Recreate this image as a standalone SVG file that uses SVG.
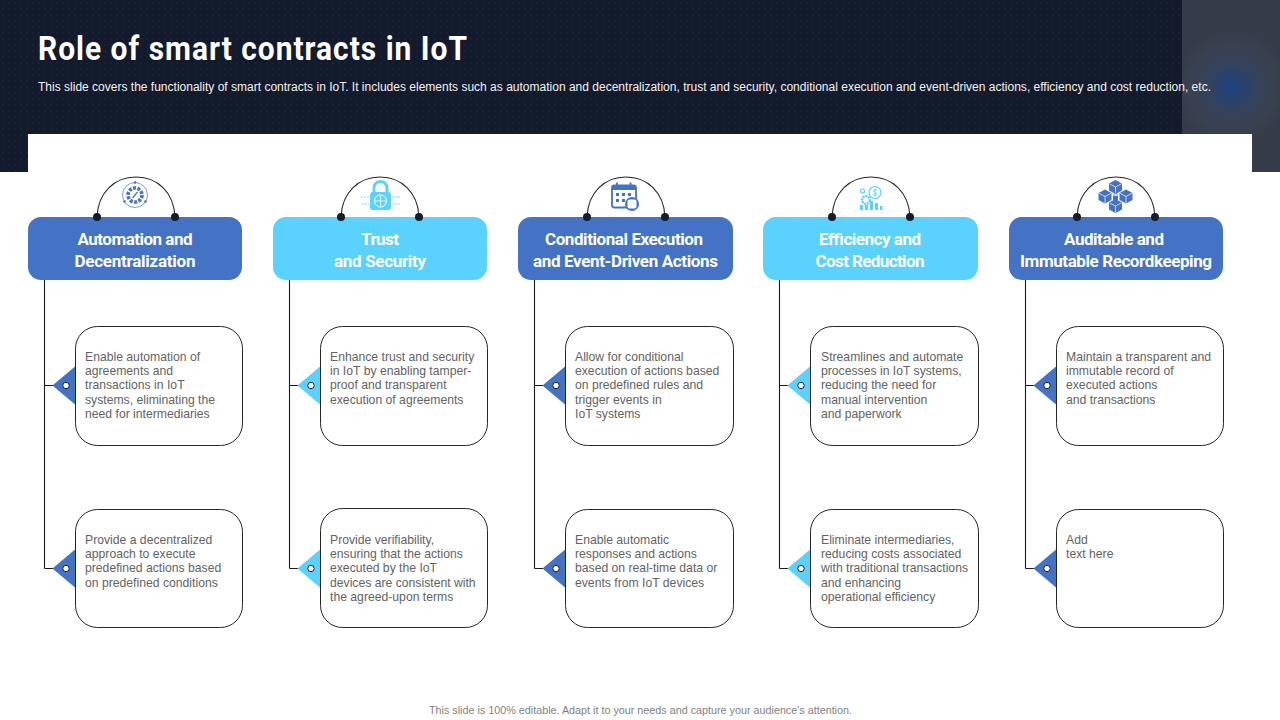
<svg xmlns="http://www.w3.org/2000/svg" width="1280" height="720" viewBox="0 0 1280 720">
<style>
text{font-family:"Liberation Sans",Arial,sans-serif}
.title{font-family:Roboto,"Liberation Sans",sans-serif;font-weight:700;font-size:34px;fill:#fff}
.sub{font-size:12px;fill:#f2f2f2}
.hd{font-family:Roboto,"Liberation Sans",sans-serif;font-weight:700;font-size:17px;fill:#fff;text-anchor:middle}
.body{font-size:12.2px;fill:#636363}
.foot{font-size:10.5px;fill:#7f7f7f}
.box{fill:#fff;stroke:#262626;stroke-width:1}
.arc{fill:none;stroke:#262626;stroke-width:1.1}
.dot{fill:#141c2e}
.line{fill:none;stroke:#1a1a1a;stroke-width:1.1}
.pin{fill:#fff;stroke:#141c2e;stroke-width:1}
.blue{fill:#4472c4}
.cyan{fill:#5bd2fd}
</style>
<defs>
<pattern id="dots" width="6" height="6" patternUnits="userSpaceOnUse"><rect width="6" height="6" fill="#121a2b"/><circle cx="3" cy="3" r="1" fill="#19223a"/></pattern>
<radialGradient id="glow" cx="1232" cy="87" r="58" gradientUnits="userSpaceOnUse"><stop offset="0" stop-color="#1f4a8e"/><stop offset="0.18" stop-color="#2a4678"/><stop offset="0.45" stop-color="#3a4761"/><stop offset="0.75" stop-color="#3e4554"/><stop offset="1" stop-color="#3a404d"/></radialGradient>
<g id="dome"><path class="arc" d="M0 0C1 -25 18 -40 39 -40C60 -40 77 -25 78 0"/><circle class="dot" cx="0" cy="0" r="4"/><circle class="dot" cx="78" cy="0" r="4"/></g>
<path id="tri" d="M-13.500 0L9 -19V19Z"/>
<g id="cube"><path d="M0 -7L6.500 -3.500V3.500L0 7L-6.500 3.500V-3.500Z" fill="#4472c4"/><path d="M-6 -3.200L0 0L6 -3.200M0 0V6.500" fill="none" stroke="#fff" stroke-width="0.7"/></g>
</defs>
<g id="background">
<rect width="1280" height="172" fill="url(#dots)"/>
<rect x="1182" width="98" height="172" fill="url(#glow)"/>
<rect x="1182" width="98" height="172" fill="url(#dots)" opacity="0.12"/>
<rect x="28" y="134" width="1224" height="38" fill="#fff"/>
</g>
<g id="heading">
<text class="title" transform="translate(38 60) scale(0.88 1)" x="0" y="0" textLength="487.500">Role of smart contracts in IoT</text>
<text class="sub" x="38" y="91" textLength="1173" lengthAdjust="spacingAndGlyphs">This slide covers the functionality of smart contracts in IoT. It includes elements such as automation and decentralization, trust and security, conditional execution and event-driven actions, efficiency and cost reduction, etc.</text>
</g>
<g id="connectors">
<path class="line" d="M44.500 280V568.500M44.500 385.500H66M44.500 568.500H66"/>
<path class="line" d="M289.500 280V568.500M289.500 385.500H311M289.500 568.500H311"/>
<path class="line" d="M534.500 280V568.500M534.500 385.500H556M534.500 568.500H556"/>
<path class="line" d="M779.500 280V568.500M779.500 385.500H801M779.500 568.500H801"/>
<path class="line" d="M1025.500 280V568.500M1025.500 385.500H1047M1025.500 568.500H1047"/>
</g>
<g id="col1">
<rect class="blue" x="28" y="217" width="214" height="63" rx="13"/>
<text class="hd" x="135" y="245" textLength="115">Automation and</text>
<text class="hd" x="135" y="267" textLength="121">Decentralization</text>
<use href="#dome" x="97" y="217"/>
<g id="icon1" fill="none" stroke="#4472c4"><circle cx="135" cy="195" r="12.500" stroke-width="0.7"/><circle cx="135" cy="195" r="7" stroke-width="3.600" stroke-dasharray="3 1.400"/><path d="M132.500 198L137.500 192" stroke-width="1.200"/><circle cx="135" cy="182.500" r="1.300" fill="#4472c4" stroke="none"/><circle cx="124.500" cy="201.500" r="1.300" fill="#4472c4" stroke="none"/><circle cx="145.500" cy="201.500" r="1.300" fill="#4472c4" stroke="none"/></g>
<rect class="box" x="75.500" y="326.500" width="167" height="119" rx="22"/>
<use href="#tri" class="blue" x="66" y="385.500"/><circle class="pin" cx="66" cy="385.500" r="3.200"/>
<text class="body"><tspan x="85" y="361">Enable automation of</tspan><tspan x="85" y="375">agreements and</tspan><tspan x="85" y="389">transactions in IoT</tspan><tspan x="85" y="404">systems, eliminating the</tspan><tspan x="85" y="418">need for intermediaries</tspan></text>
<rect class="box" x="75.500" y="509.500" width="167" height="118" rx="22"/>
<use href="#tri" class="blue" x="66" y="568.500"/><circle class="pin" cx="66" cy="568.500" r="3.200"/>
<text class="body"><tspan x="85" y="544">Provide a decentralized</tspan><tspan x="85" y="558">approach to execute</tspan><tspan x="85" y="572">predefined actions based</tspan><tspan x="85" y="587">on predefined conditions</tspan></text>
</g>
<g id="col2">
<rect class="cyan" x="273" y="217" width="214" height="63" rx="13"/>
<text class="hd" x="380" y="245" textLength="38">Trust</text>
<text class="hd" x="380" y="267" textLength="92">and Security</text>
<use href="#dome" x="341" y="217"/>
<g id="icon2"><path d="M374 193V188a6.500 6.500 0 0 1 13 0V193" fill="none" stroke="#5bd2fd" stroke-width="3"/><rect class="cyan" x="370" y="192" width="21" height="18" rx="3"/><circle cx="380.500" cy="201" r="6" fill="none" stroke="#fff" stroke-width="1"/><path d="M374.500 201H386.500M380.500 195V207" stroke="#fff" stroke-width="0.8"/><path d="M361 197H369M362 204H369M392 197H401M392 204H400" stroke="#5bd2fd" stroke-width="1" stroke-dasharray="2 1" opacity="0.75"/></g>
<rect class="box" x="320.500" y="326.500" width="167" height="119" rx="22"/>
<use href="#tri" class="cyan" x="311" y="385.500"/><circle class="pin" cx="311" cy="385.500" r="3.200"/>
<text class="body"><tspan x="330" y="361">Enhance trust and security</tspan><tspan x="330" y="375">in IoT by enabling tamper-</tspan><tspan x="330" y="389">proof and transparent</tspan><tspan x="330" y="404">execution of agreements</tspan></text>
<rect class="box" x="320.500" y="508.500" width="167" height="119" rx="22"/>
<use href="#tri" class="cyan" x="311" y="568.500"/><circle class="pin" cx="311" cy="568.500" r="3.200"/>
<text class="body"><tspan x="330" y="544">Provide verifiability,</tspan><tspan x="330" y="558">ensuring that the actions</tspan><tspan x="330" y="572">executed by the IoT</tspan><tspan x="330" y="587">devices are consistent with</tspan><tspan x="330" y="601">the agreed-upon terms</tspan></text>
</g>
<g id="col3">
<rect class="blue" x="518" y="217" width="215" height="63" rx="13"/>
<text class="hd" x="624" y="245" textLength="158">Conditional Execution</text>
<text class="hd" x="625.500" y="267" textLength="185">and Event-Driven Actions</text>
<use href="#dome" x="587" y="217"/>
<g id="icon3"><rect x="612" y="185.500" width="24" height="22" rx="2.500" fill="none" stroke="#4472c4" stroke-width="1.800"/><rect class="blue" x="612" y="185" width="24" height="5"/><path d="M617 182.500V188M630.500 182.500V188" stroke="#4472c4" stroke-width="1.800"/><path d="M616 193h3v3h-3zM622 193h3v3h-3zM628 193h3v3h-3zM616 199h3v3h-3zM622 199h3v3h-3z" fill="#4472c4"/><circle cx="632" cy="204" r="7" fill="#4472c4"/><rect x="627.500" y="199.500" width="9" height="9" rx="2" fill="#fff"/></g>
<rect class="box" x="565.500" y="326.500" width="168" height="119" rx="22"/>
<use href="#tri" class="blue" x="556" y="385.500"/><circle class="pin" cx="556" cy="385.500" r="3.200"/>
<text class="body"><tspan x="575" y="361">Allow for conditional</tspan><tspan x="575" y="375">execution of actions based</tspan><tspan x="575" y="389">on predefined rules and</tspan><tspan x="575" y="404">trigger events in</tspan><tspan x="575" y="418">IoT systems</tspan></text>
<rect class="box" x="565.500" y="509.500" width="168" height="118" rx="22"/>
<use href="#tri" class="blue" x="556" y="568.500"/><circle class="pin" cx="556" cy="568.500" r="3.200"/>
<text class="body"><tspan x="575" y="544">Enable automatic</tspan><tspan x="575" y="558">responses and actions</tspan><tspan x="575" y="572">based on real-time data or</tspan><tspan x="575" y="587">events from IoT devices</tspan></text>
</g>
<g id="col4">
<rect class="cyan" x="763" y="217" width="215" height="63" rx="13"/>
<text class="hd" x="870" y="245" textLength="102">Efficiency and</text>
<text class="hd" x="870" y="267" textLength="109">Cost Reduction</text>
<use href="#dome" x="832" y="217"/>
<g id="icon4"><circle cx="875" cy="192.500" r="6" fill="none" stroke="#5bd2fd" stroke-width="1.200"/><path d="M877 190.500C875 189 873 190 873.500 191.500C874 193 877 192.500 876.700 194.200C876.300 195.700 874 195.500 873 194.500M875 188.500V196.500" fill="none" stroke="#5bd2fd" stroke-width="0.9"/><circle cx="866" cy="200" r="3.800" fill="none" stroke="#5bd2fd" stroke-width="2.500" stroke-dasharray="2 0.800"/><circle cx="862.500" cy="191" r="2" fill="none" stroke="#5bd2fd" stroke-width="1.200"/><path d="M860 205h3v5h-3zM865 205h3v5h-3zM870 201h3v9h-3zM875 203h3v7h-3zM880 206h2.500v4h-2.500z" fill="#5bd2fd"/></g>
<rect class="box" x="810.500" y="326.500" width="168" height="119" rx="22"/>
<use href="#tri" class="cyan" x="801" y="385.500"/><circle class="pin" cx="801" cy="385.500" r="3.200"/>
<text class="body"><tspan x="821" y="361">Streamlines and automate</tspan><tspan x="821" y="375">processes in IoT systems,</tspan><tspan x="821" y="389">reducing the need for</tspan><tspan x="821" y="404">manual intervention</tspan><tspan x="821" y="418">and paperwork</tspan></text>
<rect class="box" x="810.500" y="509.500" width="168" height="118" rx="22"/>
<use href="#tri" class="cyan" x="801" y="568.500"/><circle class="pin" cx="801" cy="568.500" r="3.200"/>
<text class="body"><tspan x="821" y="544">Eliminate intermediaries,</tspan><tspan x="821" y="558">reducing costs associated</tspan><tspan x="821" y="572">with traditional transactions</tspan><tspan x="821" y="587">and enhancing</tspan><tspan x="821" y="601">operational efficiency</tspan></text>
</g>
<g id="col5">
<rect class="blue" x="1009" y="217" width="214" height="63" rx="13"/>
<text class="hd" x="1114" y="245" textLength="100">Auditable and</text>
<text class="hd" x="1116" y="267" textLength="192">Immutable Recordkeeping</text>
<use href="#dome" x="1077" y="217"/>
<g id="icon5"><use href="#cube" x="1115.500" y="187"/><use href="#cube" x="1115.500" y="206"/><use href="#cube" x="1105" y="196.500"/><use href="#cube" x="1126" y="196.500"/><rect x="1113" y="196" width="5" height="4" fill="#4472c4"/><path d="M1114 196V194.500a1.500 1.500 0 0 1 3 0V196" fill="none" stroke="#4472c4" stroke-width="0.8"/></g>
<rect class="box" x="1056.500" y="326.500" width="167" height="119" rx="22"/>
<use href="#tri" class="blue" x="1047" y="385.500"/><circle class="pin" cx="1047" cy="385.500" r="3.200"/>
<text class="body"><tspan x="1066" y="361">Maintain a transparent and</tspan><tspan x="1066" y="375">immutable record of</tspan><tspan x="1066" y="389">executed actions</tspan><tspan x="1066" y="404">and transactions</tspan></text>
<rect class="box" x="1056.500" y="509.500" width="167" height="118" rx="22"/>
<use href="#tri" class="blue" x="1047" y="568.500"/><circle class="pin" cx="1047" cy="568.500" r="3.200"/>
<text class="body"><tspan x="1066" y="544">Add</tspan><tspan x="1066" y="558">text here</tspan></text>
</g>
<text id="footer" class="foot" x="429" y="714" textLength="423" lengthAdjust="spacingAndGlyphs">This slide is 100% editable. Adapt it to your needs and capture your audience's attention.</text>
</svg>
